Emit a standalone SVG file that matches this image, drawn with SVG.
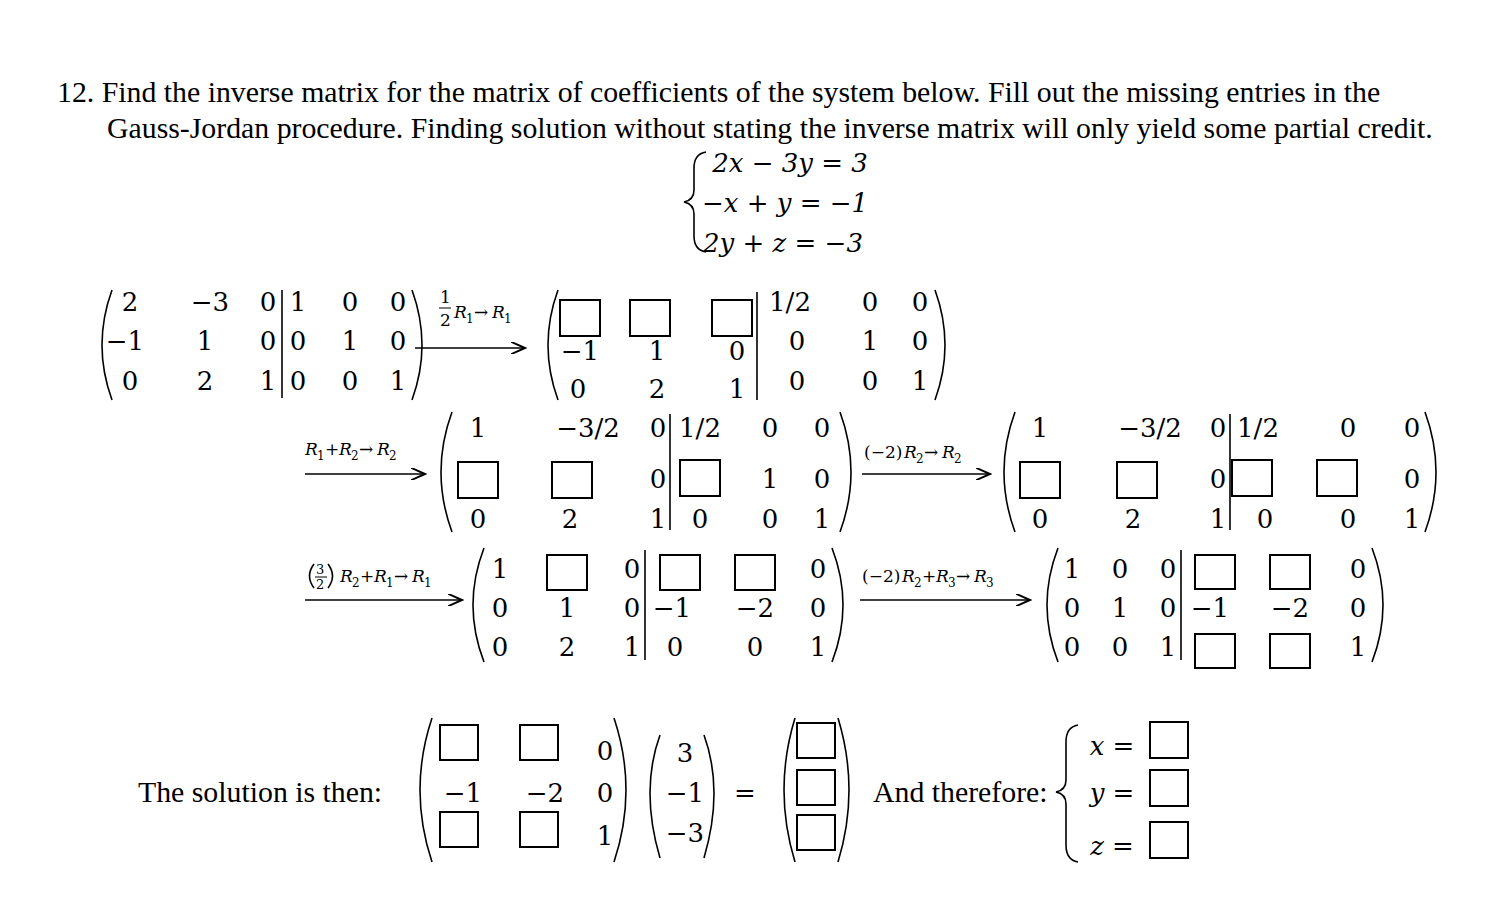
<svg xmlns="http://www.w3.org/2000/svg" width="1512" height="908" viewBox="0 0 1512 908">
<style>
text{font-family:"Liberation Serif","DejaVu Serif",serif;fill:#000}
.t{font-size:29.8px}
.m{font-size:26px;text-anchor:middle;font-family:"DejaVu Serif","Liberation Serif",serif}
.s{font-size:17px;font-family:"DejaVu Serif",serif}
.u{font-size:12px;font-family:"DejaVu Serif",serif}
.i{font-style:italic}
.b{fill:#fff;stroke:#000;stroke-width:2}
.p{fill:none;stroke:#000;stroke-width:1.6}
.l{stroke:#000;stroke-width:1.6}
</style>
<defs>
<marker id="ah" markerWidth="10" markerHeight="8" refX="9" refY="4" orient="auto"><path d="M0,0 L9,4 L0,8" fill="none" stroke="#000" stroke-width="1.2"/></marker>
</defs>
<text class="t" x="57" y="102">12. Find the inverse matrix for the matrix of coefficients of the system below.  Fill out the missing entries in the</text>
<text class="t" x="107" y="138">Gauss-Jordan procedure. Finding solution without stating the inverse matrix will only yield some partial credit.</text>
<path class="p" d="M706,152 Q694,154 694,168 L694,190 Q694,200 684,202 Q694,204 694,214 L694,236 Q694,250 706,252"/>
<text class="m i" x="790" y="172">2x − 3y = 3</text>
<text class="m i" x="785" y="212">−x + y = −1</text>
<text class="m i" x="783" y="252">2y + z = −3</text>
<g id="m1">
<path class="p" d="M112,290 Q92,345 112,400"/><path class="p" d="M412,290 Q432,345 412,400"/>
<line class="l" x1="282" y1="290" x2="282" y2="398"/>
<text class="m" x="130" y="311">2</text><text class="m" x="210" y="311">−3</text><text class="m" x="268" y="311">0</text><text class="m" x="298" y="311">1</text><text class="m" x="350" y="311">0</text><text class="m" x="398" y="311">0</text>
<text class="m" x="125" y="350">−1</text><text class="m" x="205" y="350">1</text><text class="m" x="268" y="350">0</text><text class="m" x="298" y="350">0</text><text class="m" x="350" y="350">1</text><text class="m" x="398" y="350">0</text>
<text class="m" x="130" y="390">0</text><text class="m" x="205" y="390">2</text><text class="m" x="268" y="390">1</text><text class="m" x="298" y="390">0</text><text class="m" x="350" y="390">0</text><text class="m" x="398" y="390">1</text>
</g>
<g id="connectors">
<line class="l" x1="415" y1="348" x2="525" y2="348" marker-end="url(#ah)"/>
<line class="l" x1="305" y1="474" x2="425" y2="474" marker-end="url(#ah)"/>
<line class="l" x1="862" y1="474" x2="990" y2="474" marker-end="url(#ah)"/>
<line class="l" x1="305" y1="600" x2="462" y2="600" marker-end="url(#ah)"/>
<line class="l" x1="860" y1="600" x2="1030" y2="600" marker-end="url(#ah)"/>
</g>
<text class="s" x="440" y="303">1</text><line class="l" x1="439" y1="308" x2="451" y2="308" style="stroke-width:1"/><text class="s" x="440" y="326">2</text>
<text class="s i" x="454" y="318">R</text><text class="u" x="466" y="323">1</text><text class="s" x="474" y="318">→</text><text class="s i" x="492" y="318">R</text><text class="u" x="504" y="323">1</text>
<g id="m2">
<path class="p" d="M558,290 Q538,345 558,400"/><path class="p" d="M935,290 Q955,345 935,400"/>
<line class="l" x1="757" y1="292" x2="757" y2="400"/>
<rect class="b" x="560" y="300" width="40" height="36"/><rect class="b" x="630" y="300" width="40" height="36"/><rect class="b" x="712" y="300" width="40" height="36"/>
<text class="m" x="790" y="311">1/2</text><text class="m" x="870" y="311">0</text><text class="m" x="920" y="311">0</text>
<text class="m" x="580" y="360">−1</text><text class="m" x="657" y="360">1</text><text class="m" x="737" y="360">0</text><text class="m" x="797" y="350">0</text><text class="m" x="870" y="350">1</text><text class="m" x="920" y="350">0</text>
<text class="m" x="578" y="398">0</text><text class="m" x="657" y="398">2</text><text class="m" x="737" y="398">1</text><text class="m" x="797" y="390">0</text><text class="m" x="870" y="390">0</text><text class="m" x="920" y="390">1</text>
</g>
<text class="s i" x="305" y="455">R</text><text class="u" x="317" y="460">1</text><text class="s" x="325" y="455">+</text><text class="s i" x="339" y="455">R</text><text class="u" x="351" y="460">2</text><text class="s" x="359" y="455">→</text><text class="s i" x="377" y="455">R</text><text class="u" x="389" y="460">2</text>
<g id="m3">
<path class="p" d="M452,412 Q430,472 452,532"/><path class="p" d="M840,412 Q862,472 840,532"/>
<line class="l" x1="670" y1="414" x2="670" y2="530"/>
<text class="m" x="478" y="437">1</text><text class="m" x="588" y="437">−3/2</text><text class="m" x="658" y="437">0</text><text class="m" x="700" y="437">1/2</text><text class="m" x="770" y="437">0</text><text class="m" x="822" y="437">0</text>
<rect class="b" x="458" y="462" width="40" height="36"/><rect class="b" x="552" y="462" width="40" height="36"/><text class="m" x="658" y="488">0</text><rect class="b" x="680" y="460" width="40" height="36"/><text class="m" x="770" y="488">1</text><text class="m" x="822" y="488">0</text>
<text class="m" x="478" y="528">0</text><text class="m" x="570" y="528">2</text><text class="m" x="658" y="528">1</text><text class="m" x="700" y="528">0</text><text class="m" x="770" y="528">0</text><text class="m" x="822" y="528">1</text>
</g>
<text class="s" x="864" y="458">(−2)</text><text class="s i" x="904" y="458">R</text><text class="u" x="916" y="463">2</text><text class="s" x="924" y="458">→</text><text class="s i" x="942" y="458">R</text><text class="u" x="954" y="463">2</text>
<g id="m4">
<path class="p" d="M1015,412 Q993,472 1015,532"/><path class="p" d="M1425,412 Q1447,472 1425,532"/>
<line class="l" x1="1230" y1="414" x2="1230" y2="530"/>
<text class="m" x="1040" y="437">1</text><text class="m" x="1150" y="437">−3/2</text><text class="m" x="1218" y="437">0</text><text class="m" x="1258" y="437">1/2</text><text class="m" x="1348" y="437">0</text><text class="m" x="1412" y="437">0</text>
<rect class="b" x="1020" y="462" width="40" height="36"/><rect class="b" x="1117" y="462" width="40" height="36"/><text class="m" x="1218" y="488">0</text><rect class="b" x="1232" y="460" width="40" height="36"/><rect class="b" x="1317" y="460" width="40" height="36"/><text class="m" x="1412" y="488">0</text>
<text class="m" x="1040" y="528">0</text><text class="m" x="1133" y="528">2</text><text class="m" x="1218" y="528">1</text><text class="m" x="1265" y="528">0</text><text class="m" x="1348" y="528">0</text><text class="m" x="1412" y="528">1</text>
</g>
<path class="p" d="M314,564 Q305,576 314,588"/><text class="u" x="316" y="574" style="font-size:13px">3</text><line class="l" x1="315" y1="577" x2="327" y2="577" style="stroke-width:1"/><text class="u" x="316" y="589" style="font-size:13px">2</text><path class="p" d="M328,564 Q337,576 328,588"/>
<text class="s i" x="340" y="582">R</text><text class="u" x="352" y="587">2</text><text class="s" x="360" y="582">+</text><text class="s i" x="374" y="582">R</text><text class="u" x="386" y="587">1</text><text class="s" x="394" y="582">→</text><text class="s i" x="412" y="582">R</text><text class="u" x="424" y="587">1</text>
<g id="m5">
<path class="p" d="M484,548 Q462,605 484,662"/><path class="p" d="M832,548 Q854,605 832,662"/>
<line class="l" x1="645" y1="550" x2="645" y2="660"/>
<text class="m" x="500" y="578">1</text><rect class="b" x="547" y="555" width="40" height="35"/><text class="m" x="632" y="578">0</text><rect class="b" x="660" y="555" width="40" height="35"/><rect class="b" x="735" y="555" width="40" height="35"/><text class="m" x="818" y="578">0</text>
<text class="m" x="500" y="617">0</text><text class="m" x="567" y="617">1</text><text class="m" x="632" y="617">0</text><text class="m" x="672" y="617">−1</text><text class="m" x="755" y="617">−2</text><text class="m" x="818" y="617">0</text>
<text class="m" x="500" y="656">0</text><text class="m" x="567" y="656">2</text><text class="m" x="632" y="656">1</text><text class="m" x="675" y="656">0</text><text class="m" x="755" y="656">0</text><text class="m" x="818" y="656">1</text>
</g>
<text class="s" x="862" y="582">(−2)</text><text class="s i" x="902" y="582">R</text><text class="u" x="914" y="587">2</text><text class="s" x="922" y="582">+</text><text class="s i" x="936" y="582">R</text><text class="u" x="948" y="587">3</text><text class="s" x="956" y="582">→</text><text class="s i" x="974" y="582">R</text><text class="u" x="986" y="587">3</text>
<g id="m6">
<path class="p" d="M1058,548 Q1036,605 1058,662"/><path class="p" d="M1372,548 Q1394,605 1372,662"/>
<line class="l" x1="1181" y1="550" x2="1181" y2="660"/>
<text class="m" x="1072" y="578">1</text><text class="m" x="1120" y="578">0</text><text class="m" x="1168" y="578">0</text><rect class="b" x="1195" y="555" width="40" height="34"/><rect class="b" x="1270" y="555" width="40" height="34"/><text class="m" x="1358" y="578">0</text>
<text class="m" x="1072" y="617">0</text><text class="m" x="1120" y="617">1</text><text class="m" x="1168" y="617">0</text><text class="m" x="1210" y="617">−1</text><text class="m" x="1290" y="617">−2</text><text class="m" x="1358" y="617">0</text>
<text class="m" x="1072" y="656">0</text><text class="m" x="1120" y="656">0</text><text class="m" x="1168" y="656">1</text><rect class="b" x="1195" y="634" width="40" height="34"/><rect class="b" x="1270" y="634" width="40" height="34"/><text class="m" x="1358" y="656">1</text>
</g>
<text class="t" x="138" y="802">The solution is then:</text>
<g id="inv">
<path class="p" d="M432,718 Q408,790 432,862"/><path class="p" d="M614,718 Q638,790 614,862"/>
<rect class="b" x="440" y="725" width="38" height="35"/><rect class="b" x="520" y="725" width="38" height="35"/><text class="m" x="605" y="760">0</text>
<text class="m" x="463" y="802">−1</text><text class="m" x="545" y="802">−2</text><text class="m" x="605" y="802">0</text>
<rect class="b" x="440" y="812" width="38" height="35"/><rect class="b" x="520" y="812" width="38" height="35"/><text class="m" x="605" y="845">1</text>
</g>
<g id="b">
<path class="p" d="M660,735 Q640,790 660,858"/><path class="p" d="M704,735 Q724,790 704,858"/>
<text class="m" x="685" y="762">3</text><text class="m" x="685" y="802">−1</text><text class="m" x="685" y="842">−3</text>
</g>
<text class="m" x="745" y="802">=</text>
<g id="x">
<path class="p" d="M795,718 Q773,790 795,862"/><path class="p" d="M838,718 Q860,790 838,862"/>
<rect class="b" x="797" y="723" width="38" height="35"/><rect class="b" x="797" y="770" width="38" height="35"/><rect class="b" x="797" y="815" width="38" height="35"/>
</g>
<text class="t" x="873" y="802">And therefore:</text>
<path class="p" d="M1078,725 Q1066,727 1066,742 L1066,780 Q1066,790 1056,792 Q1066,794 1066,804 L1066,845 Q1066,860 1078,862"/>
<text class="m i" x="1112" y="755">x =</text><rect class="b" x="1150" y="722" width="38" height="36"/>
<text class="m i" x="1112" y="802">y =</text><rect class="b" x="1150" y="770" width="38" height="36"/>
<text class="m i" x="1112" y="855">z =</text><rect class="b" x="1150" y="822" width="38" height="36"/>
</svg>
